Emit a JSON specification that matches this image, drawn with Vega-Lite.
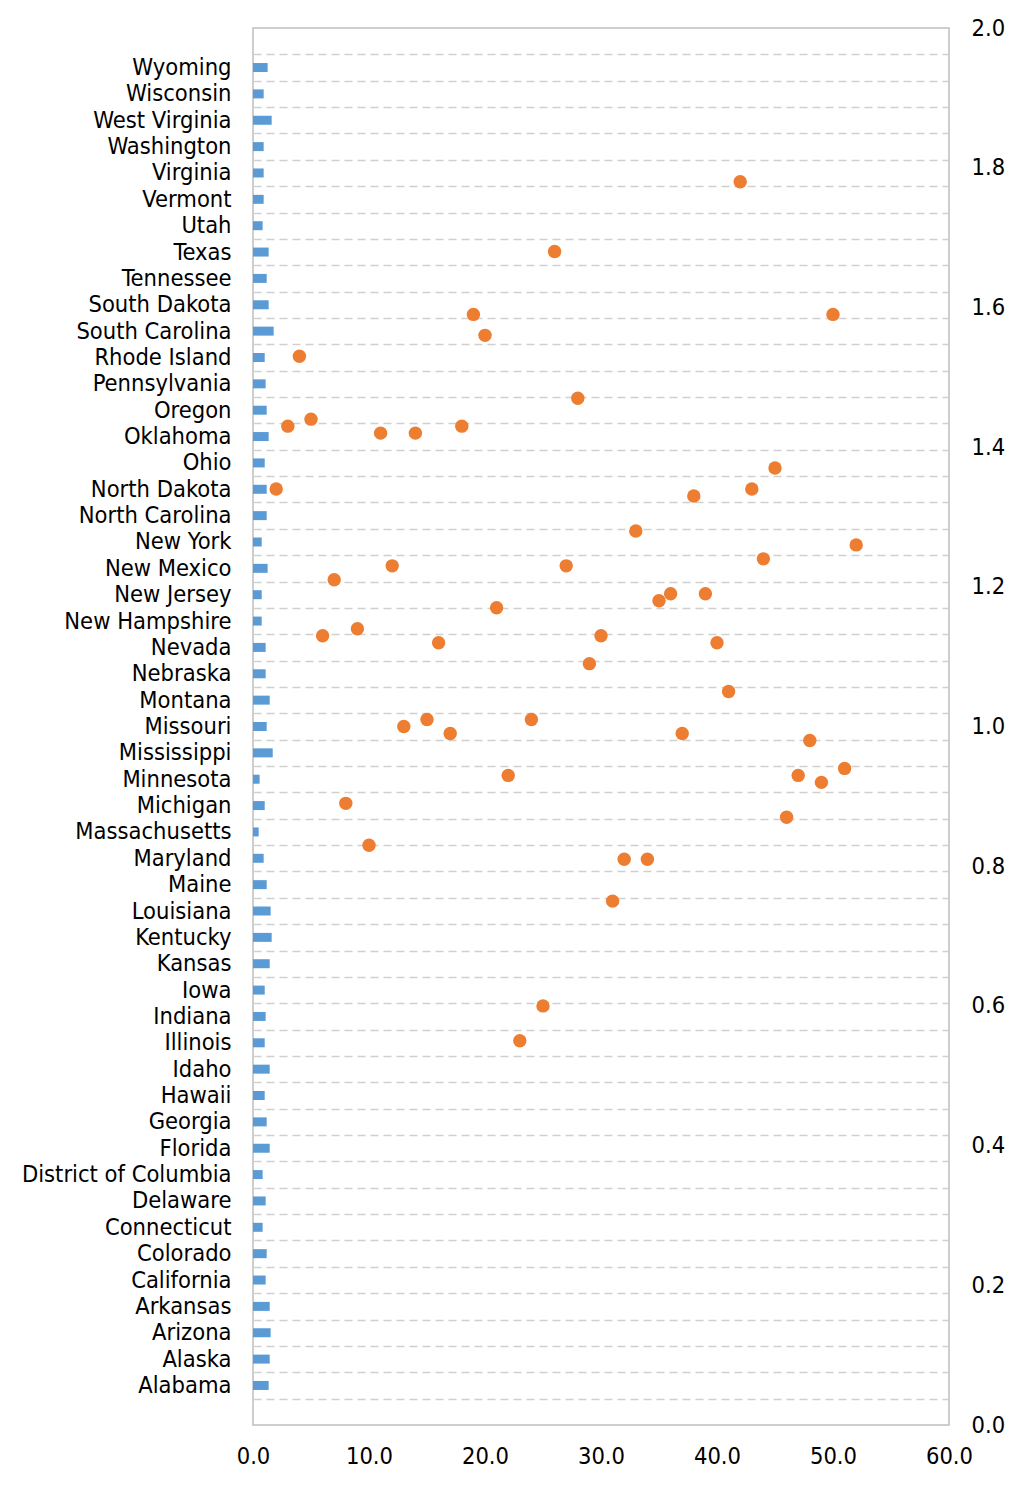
{
  "$schema": "https://vega.github.io/schema/vega-lite/v6.json",
  "width": 696,
  "height": 1397,
  "autosize": {"type": "none"},
  "padding": {"left": 253, "top": 28, "right": 80, "bottom": 66},
  "background": "white",
  "config": {
    "view": {"stroke": "#BFBFBF", "strokeWidth": 1.5},
    "font": "DejaVu Sans Condensed",
    "axis": {
      "labelFont": "DejaVu Sans Condensed",
      "labelFontSize": 23.5,
      "labelColor": "#000000",
      "labelLimit": 0,
      "domain": false,
      "ticks": false,
      "tickSize": 0,
      "labelPadding": 22,
      "labelOverlap": false,
      "labelFlush": false,
      "title": null
    }
  },
  "datasets": {
    "states": [
      {"state": "Wyoming", "value": 1.26},
      {"state": "Wisconsin", "value": 0.92},
      {"state": "West Virginia", "value": 1.61},
      {"state": "Washington", "value": 0.92},
      {"state": "Virginia", "value": 0.92},
      {"state": "Vermont", "value": 0.92},
      {"state": "Utah", "value": 0.83},
      {"state": "Texas", "value": 1.35},
      {"state": "Tennessee", "value": 1.18},
      {"state": "South Dakota", "value": 1.35},
      {"state": "South Carolina", "value": 1.78},
      {"state": "Rhode Island", "value": 1.01},
      {"state": "Pennsylvania", "value": 1.09},
      {"state": "Oregon", "value": 1.18},
      {"state": "Oklahoma", "value": 1.35},
      {"state": "Ohio", "value": 1.01},
      {"state": "North Dakota", "value": 1.18},
      {"state": "North Carolina", "value": 1.18},
      {"state": "New York", "value": 0.75},
      {"state": "New Mexico", "value": 1.26},
      {"state": "New Jersey", "value": 0.75},
      {"state": "New Hampshire", "value": 0.75},
      {"state": "Nevada", "value": 1.09},
      {"state": "Nebraska", "value": 1.09},
      {"state": "Montana", "value": 1.44},
      {"state": "Missouri", "value": 1.18},
      {"state": "Mississippi", "value": 1.70},
      {"state": "Minnesota", "value": 0.57},
      {"state": "Michigan", "value": 1.01},
      {"state": "Massachusetts", "value": 0.49},
      {"state": "Maryland", "value": 0.92},
      {"state": "Maine", "value": 1.18},
      {"state": "Louisiana", "value": 1.52},
      {"state": "Kentucky", "value": 1.61},
      {"state": "Kansas", "value": 1.44},
      {"state": "Iowa", "value": 1.01},
      {"state": "Indiana", "value": 1.09},
      {"state": "Illinois", "value": 1.01},
      {"state": "Idaho", "value": 1.44},
      {"state": "Hawaii", "value": 1.01},
      {"state": "Georgia", "value": 1.18},
      {"state": "Florida", "value": 1.44},
      {"state": "District of Columbia", "value": 0.83},
      {"state": "Delaware", "value": 1.09},
      {"state": "Connecticut", "value": 0.83},
      {"state": "Colorado", "value": 1.18},
      {"state": "California", "value": 1.09},
      {"state": "Arkansas", "value": 1.44},
      {"state": "Arizona", "value": 1.52},
      {"state": "Alaska", "value": 1.44},
      {"state": "Alabama", "value": 1.35}
    ],
    "ratios": [
      {"x": 2, "ratio": 1.34}, {"x": 3, "ratio": 1.43}, {"x": 4, "ratio": 1.53},
      {"x": 5, "ratio": 1.44}, {"x": 6, "ratio": 1.13}, {"x": 7, "ratio": 1.21},
      {"x": 8, "ratio": 0.89}, {"x": 9, "ratio": 1.14}, {"x": 10, "ratio": 0.83},
      {"x": 11, "ratio": 1.42}, {"x": 12, "ratio": 1.23}, {"x": 13, "ratio": 1.00},
      {"x": 14, "ratio": 1.42}, {"x": 15, "ratio": 1.01}, {"x": 16, "ratio": 1.12},
      {"x": 17, "ratio": 0.99}, {"x": 18, "ratio": 1.43}, {"x": 19, "ratio": 1.59},
      {"x": 20, "ratio": 1.56}, {"x": 21, "ratio": 1.17}, {"x": 22, "ratio": 0.93},
      {"x": 23, "ratio": 0.55}, {"x": 24, "ratio": 1.01}, {"x": 25, "ratio": 0.60},
      {"x": 26, "ratio": 1.68}, {"x": 27, "ratio": 1.23}, {"x": 28, "ratio": 1.47},
      {"x": 29, "ratio": 1.09}, {"x": 30, "ratio": 1.13}, {"x": 31, "ratio": 0.75},
      {"x": 32, "ratio": 0.81}, {"x": 33, "ratio": 1.28}, {"x": 34, "ratio": 0.81},
      {"x": 35, "ratio": 1.18}, {"x": 36, "ratio": 1.19}, {"x": 37, "ratio": 0.99},
      {"x": 38, "ratio": 1.33}, {"x": 39, "ratio": 1.19}, {"x": 40, "ratio": 1.12},
      {"x": 41, "ratio": 1.05}, {"x": 42, "ratio": 1.78}, {"x": 43, "ratio": 1.34},
      {"x": 44, "ratio": 1.24}, {"x": 45, "ratio": 1.37}, {"x": 46, "ratio": 0.87},
      {"x": 47, "ratio": 0.93}, {"x": 48, "ratio": 0.98}, {"x": 49, "ratio": 0.92},
      {"x": 50, "ratio": 1.59}, {"x": 51, "ratio": 0.94}, {"x": 52, "ratio": 1.26}
    ]
  },
  "layer": [
    {
      "data": {"name": "states"},
      "mark": {"type": "bar", "color": "#5B9BD5", "size": 9},
      "encoding": {
        "y": {
          "field": "state",
          "type": "nominal",
          "sort": "descending",
          "scale": {"paddingInner": 0, "paddingOuter": 1},
          "axis": {
            "orient": "left",
            "tickBand": "extent",
            "grid": true,
            "gridColor": "#D0D0D0",
            "gridWidth": 1.3,
            "gridDash": [8, 5]
          }
        },
        "x": {
          "field": "value",
          "type": "quantitative",
          "scale": {"domain": [0, 60], "nice": false},
          "axis": {
            "orient": "bottom",
            "values": [0, 10, 20, 30, 40, 50, 60],
            "format": ".1f",
            "labelPadding": 19,
            "grid": false
          }
        }
      }
    },
    {
      "data": {"name": "ratios"},
      "mark": {"type": "circle", "color": "#ED7D31", "size": 180, "opacity": 1},
      "encoding": {
        "x": {
          "field": "x",
          "type": "quantitative",
          "scale": {"domain": [0, 60], "nice": false}
        },
        "y": {
          "field": "ratio",
          "type": "quantitative",
          "scale": {"domain": [0, 2], "nice": false},
          "axis": {
            "orient": "right",
            "values": [0, 0.2, 0.4, 0.6, 0.8, 1.0, 1.2, 1.4, 1.6, 1.8, 2.0],
            "format": ".1f",
            "grid": false
          }
        }
      }
    }
  ],
  "resolve": {"scale": {"y": "independent"}, "axis": {"y": "independent"}}
}
